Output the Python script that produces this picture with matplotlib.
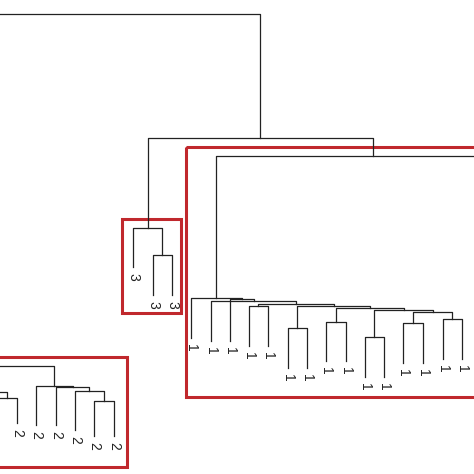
import matplotlib
matplotlib.use("Agg")
import matplotlib.pyplot as plt
from matplotlib.patches import Rectangle

# leaves: x position, bottom y, label
leaf_x = [-160, -2, 17, 36, 56, 75, 94, 114,
          133, 153, 172,
          191, 211, 230, 249, 268, 288, 307, 326, 346, 365, 384, 403, 423, 443, 462,
          530, -400]
leaf_bottom = [423, 423, 423, 425, 425, 430, 436, 436,
               267, 295, 295,
               338, 341, 341, 346, 346, 368, 368, 361, 361, 377, 377, 363, 363, 359, 359,
               500, 500]
leaf_label = ["2", "2", "2", "2", "2", "2", "2", "2",
              "3", "3", "3",
              "1", "1", "1", "1", "1", "1", "1", "1", "1", "1", "1", "1", "1", "1", "1",
              "", ""]
# merges: (left id, right id, height); leaves 0..n-1, merged nodes n, n+1, ...
merges = [
    (1, 2, 398),     # 28
    (0, 28, 392),    # 29
    (6, 7, 401),     # 30
    (5, 30, 391),    # 31
    (4, 31, 387),    # 32
    (3, 32, 386),    # 33
    (29, 33, 366),   # 34
    (9, 10, 255),    # 35
    (8, 35, 228),    # 36
    (16, 17, 328),   # 37
    (18, 19, 322),   # 38
    (20, 21, 337),   # 39
    (22, 23, 323),   # 40
    (24, 25, 319),   # 41
    (40, 41, 312),   # 42
    (39, 42, 310),   # 43
    (38, 43, 308),   # 44
    (37, 44, 306),   # 45
    (14, 15, 306),   # 46
    (46, 45, 304),   # 47
    (12, 47, 301),   # 48
    (13, 48, 299),   # 49
    (11, 49, 298),   # 50
    (50, 26, 156),   # 51
    (36, 51, 138),   # 52
    (34, 27, 120),   # 53
    (53, 52, 14),    # 54
]

fig = plt.figure(figsize=(4.74, 4.74), dpi=100)
ax = fig.add_axes([0, 0, 1, 1])
ax.set_xlim(0, 474)
ax.set_ylim(474, 0)
ax.axis("off")

n = len(leaf_x)
pos = {i: (leaf_x[i], leaf_bottom[i]) for i in range(n)}
lc = "#222222"
for k, (a, b, h) in enumerate(merges):
    xa, ya = pos[a]
    xb, yb = pos[b]
    ax.plot([xa, xa, xb, xb], [ya, h, h, yb], color=lc, lw=0.9)
    pos[n + k] = ((xa + xb) / 2, h)

for i in range(n):
    if leaf_label[i] and leaf_x[i] >= 4:
        ax.text(leaf_x[i], leaf_bottom[i] + 6, leaf_label[i], rotation=-90,
                ha="center", va="top", fontsize=10, color="#222222",
                family="Liberation Sans")

red = "#c0282d"
for (x0, y0, x1, y1) in [(186, 147, 480, 397), (122, 219, 181, 313), (-5, 357, 127, 467)]:
    ax.add_patch(Rectangle((x0, y0), x1 - x0, y1 - y0, fill=False, ec=red, lw=2.2))

fig.savefig("out.png", dpi=100)
